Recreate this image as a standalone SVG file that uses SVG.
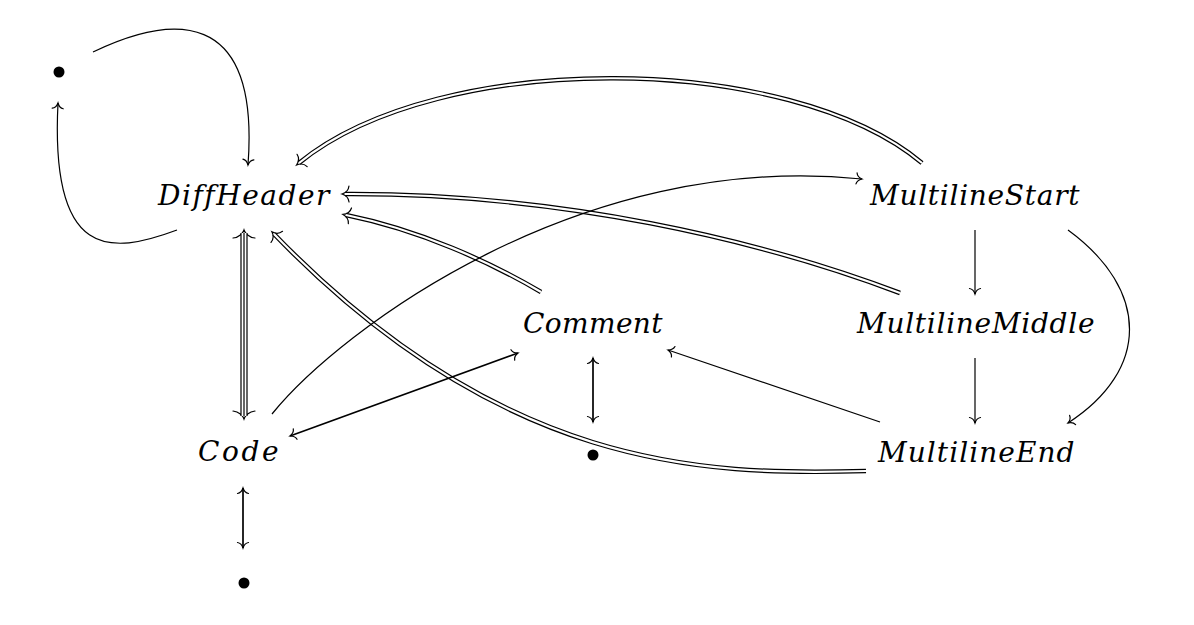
<svg xmlns="http://www.w3.org/2000/svg" width="1194" height="625" viewBox="0 0 1194 625">
<style>
  .lbl { font-family: 'DejaVu Serif', 'Liberation Serif', serif; font-style: italic; font-size: 28px; fill: #000; letter-spacing: 0.5px; font-variant-ligatures: none; font-feature-settings: "liga" 0, "clig" 0; }
  .ln { fill: none; stroke: #000; stroke-width: 1.2; }
  .ln2 { fill: none; stroke: #000; stroke-width: 1.7; }
  .dblo { fill: none; stroke: #000; stroke-width: 4.6; }
  .dbli { fill: none; stroke: #fff; stroke-width: 2.2; }
  .tro { fill: none; stroke: #000; stroke-width: 7.2; }
  .tri { fill: none; stroke: #fff; stroke-width: 4.8; }
  .trm { fill: none; stroke: #000; stroke-width: 1.2; }
  .dot { fill: #000; }
</style>
<defs>
  <marker id="ah" markerUnits="userSpaceOnUse" orient="auto-start-reverse" overflow="visible" markerWidth="20" markerHeight="20" refX="0" refY="0">
    <path d="M-5.5,-5.5 C-5,-2.5 -1.8,-0.6 0,0 C-1.8,0.6 -5,2.5 -5.5,5.5" fill="none" stroke="#000" stroke-width="1.2" stroke-linecap="round"/>
  </marker>
  <marker id="ah2" markerUnits="userSpaceOnUse" orient="auto-start-reverse" overflow="visible" markerWidth="20" markerHeight="20" refX="-3" refY="0">
    <path d="M-7,-8 C-6.5,-3.5 -2.5,-0.8 0,0 C-2.5,0.8 -6.5,3.5 -7,8" fill="none" stroke="#000" stroke-width="1.2" stroke-linecap="round"/>
  </marker>
  <marker id="ah3" markerUnits="userSpaceOnUse" orient="auto-start-reverse" overflow="visible" markerWidth="20" markerHeight="20" refX="-3" refY="0">
    <path d="M-8,-11 C-7.5,-5 -3,-1 0,0 C-3,1 -7.5,5 -8,11" fill="none" stroke="#000" stroke-width="1.2" stroke-linecap="round"/>
  </marker>
</defs>

<g id="connectors">
  <!-- MultilineStart => DiffHeader (top arc) -->
  <path class="dblo" d="M922,163 C790,52 440,48 299,163" marker-end="url(#ah2)"/>
  <path class="dbli" d="M922,163 C790,52 440,48 299,163"/>
  <!-- MultilineMiddle => DiffHeader -->
  <path class="dblo" d="M900,293 C760,240 560,193 345,194" marker-end="url(#ah2)"/>
  <path class="dbli" d="M900,293 C760,240 560,193 345,194"/>
  <!-- Comment => DiffHeader -->
  <path class="dblo" d="M541,292 C490,262 420,230 346,215" marker-end="url(#ah2)"/>
  <path class="dbli" d="M541,292 C490,262 420,230 346,215"/>
  <!-- MultilineEnd => DiffHeader -->
  <path class="dblo" d="M866,471 C700,476 500,468 274,234" marker-end="url(#ah2)"/>
  <path class="dbli" d="M866,471 C700,476 500,468 274,234"/>
  <!-- DiffHeader <=> Code (triple) -->
  <path class="tro" d="M244,416 L244,233" marker-start="url(#ah3)" marker-end="url(#ah3)"/>
  <path class="tri" d="M244,416 L244,233"/>
  <path class="trm" d="M244,416 L244,233"/>

  <!-- dot -> DiffHeader -->
  <path class="ln" d="M93,52 C170,15 260,5 248,165" marker-end="url(#ah)"/>
  <!-- DiffHeader -> dot -->
  <path class="ln" d="M177,230 C110,255 50,260 58,103" marker-end="url(#ah)"/>
  <!-- Code -> MultilineStart -->
  <path class="ln" d="M272,414 C340,330 580,150 862,179" marker-end="url(#ah)"/>
  <!-- Code <-> Comment -->
  <path class="ln2" d="M290,436 L518,353" marker-start="url(#ah)" marker-end="url(#ah)"/>
  <!-- Comment <-> dot -->
  <path class="ln2" d="M593,358 L593,422" marker-start="url(#ah)" marker-end="url(#ah)"/>
  <!-- Code <-> dot -->
  <path class="ln2" d="M243,488 L243,548" marker-start="url(#ah)" marker-end="url(#ah)"/>
  <!-- MultilineEnd -> Comment -->
  <path class="ln" d="M880,422 L668,350" marker-end="url(#ah)"/>
  <!-- MultilineStart -> MultilineMiddle -->
  <path class="ln" d="M975,230 L975,294" marker-end="url(#ah)"/>
  <!-- MultilineMiddle -> MultilineEnd -->
  <path class="ln" d="M975,358 L975,423" marker-end="url(#ah)"/>
  <!-- MultilineStart -> MultilineEnd -->
  <path class="ln" d="M1068,230 C1150,290 1150,370 1068,423" marker-end="url(#ah)"/>
</g>

<g id="node-dot-top"><circle class="dot" cx="59" cy="72" r="5.5"/></g>
<g id="node-diffheader"><text class="lbl" x="158" y="205" textLength="172" lengthAdjust="spacing">DiffHeader</text></g>
<g id="node-multilinestart"><text class="lbl" x="870" y="205" textLength="210" lengthAdjust="spacing">MultilineStart</text></g>
<g id="node-comment"><text class="lbl" x="523" y="333" textLength="140" lengthAdjust="spacing">Comment</text></g>
<g id="node-multilinemiddle"><text class="lbl" x="857" y="333" textLength="238" lengthAdjust="spacing">MultilineMiddle</text></g>
<g id="node-code"><text class="lbl" x="198" y="461" textLength="81" lengthAdjust="spacing">Code</text></g>
<g id="node-dot-mid"><circle class="dot" cx="593" cy="455" r="5.5"/></g>
<g id="node-multilineend"><text class="lbl" x="878" y="462" textLength="197" lengthAdjust="spacing">MultilineEnd</text></g>
<g id="node-dot-bottom"><circle class="dot" cx="244" cy="583" r="5.5"/></g>
</svg>
